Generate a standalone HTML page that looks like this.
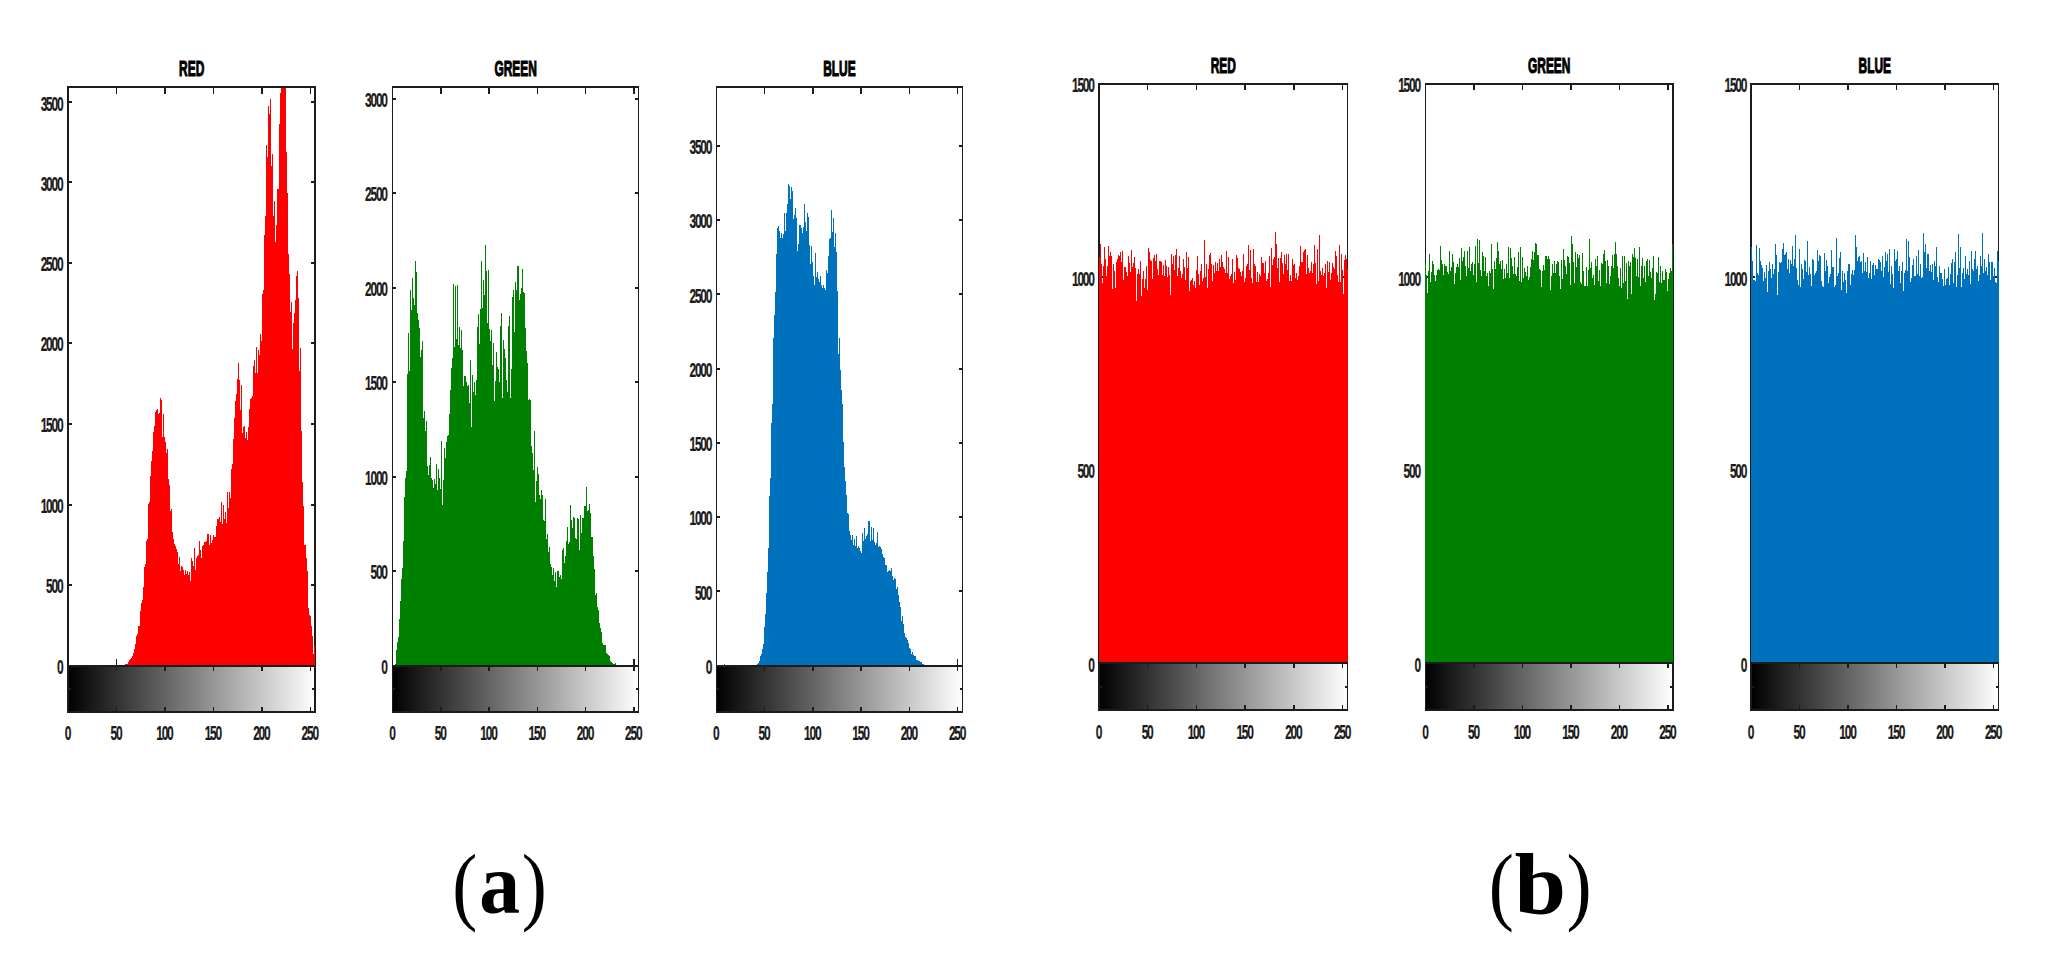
<!DOCTYPE html>
<html lang="en"><head><meta charset="utf-8"><title>RGB histograms</title>
<style>html,body{margin:0;padding:0;background:#fff;overflow:hidden;}svg{display:block;}text{font-family:"Liberation Sans",sans-serif;}.cap{font-family:"Liberation Serif",serif;}</style>
</head><body>
<svg width="2064" height="957" viewBox="0 0 2064 957">
<rect width="2064" height="957" fill="#fff"/>
<g>
<linearGradient id="g1" gradientUnits="userSpaceOnUse" x1="68.1" y1="0" x2="315.2" y2="0"><stop offset="0" stop-color="#000"/><stop offset="1" stop-color="#fff"/></linearGradient>
<rect x="67" y="665" width="249" height="48" fill="url(#g1)"/>
<path d="M67,86h249v2h-249zM67,665h249v2h-249zM67,711h249v2h-249zM67,86h2v627h-2zM314,86h2v627h-2zM115.8,88h1.5v6h-1.5zM115.8,659h1.5v6h-1.5zM115.8,667h1.5v4h-1.5zM115.8,707h1.5v4h-1.5zM164.25,88h1.5v6h-1.5zM164.25,659h1.5v6h-1.5zM164.25,667h1.5v4h-1.5zM164.25,707h1.5v4h-1.5zM212.7,88h1.5v6h-1.5zM212.7,659h1.5v6h-1.5zM212.7,667h1.5v4h-1.5zM212.7,707h1.5v4h-1.5zM261.15,88h1.5v6h-1.5zM261.15,659h1.5v6h-1.5zM261.15,667h1.5v4h-1.5zM261.15,707h1.5v4h-1.5zM309.6,88h1.5v6h-1.5zM309.6,659h1.5v6h-1.5zM309.6,667h1.5v4h-1.5zM309.6,707h1.5v4h-1.5zM69,584h3v2h-3zM311,584h3v2h-3zM69,504h3v2h-3zM311,504h3v2h-3zM69,423h3v2h-3zM311,423h3v2h-3zM69,342h3v2h-3zM311,342h3v2h-3zM69,262h3v2h-3zM311,262h3v2h-3zM69,181h3v2h-3zM311,181h3v2h-3zM69,101h3v2h-3zM311,101h3v2h-3zM69,688h2v2h-2zM312,688h2v2h-2z" fill="#1c1c1c" shape-rendering="crispEdges"/>
<path d="M125,665V664H126V664H127V664H128V662H129V660H130V659H131V658H132V656H133V653H134V649H135V644H136V636H137V634H138V626H139V626H140V611H141V603H142V600H143V587H144V567H145V564H146V541H147V539H148V504H149V502H150V476H151V461H152V451H153V432H154V426H155V412H156V410H157V409H158V414H159V413H160V398H161V400H162V437H163V414H164V437H165V442H166V453H167V449H168V479H169V485H170V511H171V509H172V532H173V539H174V544H175V546H176V549H177V552H178V564H179V557H180V571H181V566H182V567H183V570H184V575H185V570H186V574H187V571H188V575H189V572H190V581H191V558H192V561H193V566H194V548H195V570H196V558H197V556H198V555H199V541H200V550H201V558H202V546H203V545H204V542H205V542H206V541H207V534H208V534H209V545H210V535H211V543H212V540H213V535H214V537H215V537H216V526H217V519H218V519H219V517H220V522H221V502H222V524H223V505H224V519H225V512H226V523H227V492H228V508H229V492H230V498H231V469H232V464H233V439H234V418H235V401H236V394H237V379H238V363H239V380H240V410H241V385H242V433H243V427H244V426H245V438H246V432H247V440H248V427H249V409H250V399H251V398H252V396H253V366H254V360H255V373H256V347H257V373H258V350H259V355H260V334H261V341H262V294H263V290H264V235H265V216H266V145H267V157H268V106H269V114H270V99H271V166H272V154H273V216H274V201H275V242H276V225H277V189H278V189H279V124H280V93H281V88H282V88H283V88H284V88H285V88H286V152H287V193H288V254H289V274H290V312H291V302H292V349H293V323H294V313H295V300H296V276H297V271H298V298H299V371H300V348H301V431H302V482H303V506H304V545H305V545H306V558H307V571H308V608H309V615H310V616H311V626H312V636H313V654H314V646H315V665Z" fill="#ff0000" shape-rendering="crispEdges"/>
<text transform="translate(62.34,673.66) scale(0.6,1)" text-anchor="end" letter-spacing="-2.1" font-size="20" font-weight="bold" fill="#1a1a1a" stroke="#1a1a1a" stroke-width="0.2" vector-effect="non-scaling-stroke">0</text>
<text transform="translate(62.34,593.23) scale(0.6,1)" text-anchor="end" letter-spacing="-2.1" font-size="20" font-weight="bold" fill="#1a1a1a" stroke="#1a1a1a" stroke-width="0.2" vector-effect="non-scaling-stroke">500</text>
<text transform="translate(62.34,512.7) scale(0.6,1)" text-anchor="end" letter-spacing="-2.1" font-size="20" font-weight="bold" fill="#1a1a1a" stroke="#1a1a1a" stroke-width="0.2" vector-effect="non-scaling-stroke">1000</text>
<text transform="translate(62.34,432.17) scale(0.6,1)" text-anchor="end" letter-spacing="-2.1" font-size="20" font-weight="bold" fill="#1a1a1a" stroke="#1a1a1a" stroke-width="0.2" vector-effect="non-scaling-stroke">1500</text>
<text transform="translate(62.34,351.15) scale(0.6,1)" text-anchor="end" letter-spacing="-2.1" font-size="20" font-weight="bold" fill="#1a1a1a" stroke="#1a1a1a" stroke-width="0.2" vector-effect="non-scaling-stroke">2000</text>
<text transform="translate(62.34,271.12) scale(0.6,1)" text-anchor="end" letter-spacing="-2.1" font-size="20" font-weight="bold" fill="#1a1a1a" stroke="#1a1a1a" stroke-width="0.2" vector-effect="non-scaling-stroke">2500</text>
<text transform="translate(62.34,190.59) scale(0.6,1)" text-anchor="end" letter-spacing="-2.1" font-size="20" font-weight="bold" fill="#1a1a1a" stroke="#1a1a1a" stroke-width="0.2" vector-effect="non-scaling-stroke">3000</text>
<text transform="translate(62.34,111.06) scale(0.6,1)" text-anchor="end" letter-spacing="-2.1" font-size="20" font-weight="bold" fill="#1a1a1a" stroke="#1a1a1a" stroke-width="0.2" vector-effect="non-scaling-stroke">3500</text>
<text transform="translate(67.47,740.26) scale(0.6,1)" text-anchor="middle" letter-spacing="-2.1" font-size="20" font-weight="bold" fill="#1a1a1a" stroke="#1a1a1a" stroke-width="0.2" vector-effect="non-scaling-stroke">0</text>
<text transform="translate(115.92,740.26) scale(0.6,1)" text-anchor="middle" letter-spacing="-2.1" font-size="20" font-weight="bold" fill="#1a1a1a" stroke="#1a1a1a" stroke-width="0.2" vector-effect="non-scaling-stroke">50</text>
<text transform="translate(164.37,740.26) scale(0.6,1)" text-anchor="middle" letter-spacing="-2.1" font-size="20" font-weight="bold" fill="#1a1a1a" stroke="#1a1a1a" stroke-width="0.2" vector-effect="non-scaling-stroke">100</text>
<text transform="translate(212.82,740.26) scale(0.6,1)" text-anchor="middle" letter-spacing="-2.1" font-size="20" font-weight="bold" fill="#1a1a1a" stroke="#1a1a1a" stroke-width="0.2" vector-effect="non-scaling-stroke">150</text>
<text transform="translate(261.27,740.26) scale(0.6,1)" text-anchor="middle" letter-spacing="-2.1" font-size="20" font-weight="bold" fill="#1a1a1a" stroke="#1a1a1a" stroke-width="0.2" vector-effect="non-scaling-stroke">200</text>
<text transform="translate(309.72,740.26) scale(0.6,1)" text-anchor="middle" letter-spacing="-2.1" font-size="20" font-weight="bold" fill="#1a1a1a" stroke="#1a1a1a" stroke-width="0.2" vector-effect="non-scaling-stroke">250</text>
<text transform="translate(191.65,76.3) scale(0.555,1)" text-anchor="middle" font-size="21.5" font-weight="bold" fill="#000" stroke="#000" stroke-width="0.9" vector-effect="non-scaling-stroke">RED</text>
</g>
<g>
<linearGradient id="g2" gradientUnits="userSpaceOnUse" x1="392.6" y1="0" x2="638.7" y2="0"><stop offset="0" stop-color="#000"/><stop offset="1" stop-color="#fff"/></linearGradient>
<rect x="392" y="665" width="247" height="48" fill="url(#g2)"/>
<path d="M392,86h247v2h-247zM392,665h247v2h-247zM392,711h247v2h-247zM392,86h1v627h-1zM638,86h1v627h-1zM440.1,88h1.5v6h-1.5zM440.1,659h1.5v6h-1.5zM440.1,667h1.5v4h-1.5zM440.1,707h1.5v4h-1.5zM488.36,88h1.5v6h-1.5zM488.36,659h1.5v6h-1.5zM488.36,667h1.5v4h-1.5zM488.36,707h1.5v4h-1.5zM536.61,88h1.5v6h-1.5zM536.61,659h1.5v6h-1.5zM536.61,667h1.5v4h-1.5zM536.61,707h1.5v4h-1.5zM584.87,88h1.5v6h-1.5zM584.87,659h1.5v6h-1.5zM584.87,667h1.5v4h-1.5zM584.87,707h1.5v4h-1.5zM633.12,88h1.5v6h-1.5zM633.12,659h1.5v6h-1.5zM633.12,667h1.5v4h-1.5zM633.12,707h1.5v4h-1.5zM393,570h3v2h-3zM635,570h3v2h-3zM393,476h3v2h-3zM635,476h3v2h-3zM393,381h3v2h-3zM635,381h3v2h-3zM393,287h3v2h-3zM635,287h3v2h-3zM393,192h3v2h-3zM635,192h3v2h-3zM393,98h3v2h-3zM635,98h3v2h-3zM393,688h2v2h-2zM636,688h2v2h-2z" fill="#1c1c1c" shape-rendering="crispEdges"/>
<path d="M395,665V664H396V650H397V642H398V637H399V619H400V601H401V579H402V568H403V541H404V497H405V478H406V471H407V374H408V333H409V371H410V290H411V310H412V278H413V298H414V305H415V261H416V272H417V313H418V320H419V328H420V357H421V350H422V341H423V418H424V411H425V431H426V421H427V466H428V475H429V465H430V457H431V478H432V480H433V488H434V479H435V484H436V464H437V490H438V469H439V478H440V489H441V441H442V505H443V480H444V448H445V458H446V442H447V436H448V435H449V414H450V390H451V368H452V358H453V284H454V347H455V286H456V339H457V285H458V345H459V327H460V348H461V330H462V350H463V386H464V376H465V376H466V382H467V386H468V385H469V403H470V360H471V427H472V375H473V392H474V382H475V395H476V380H477V327H478V314H479V344H480V309H481V261H482V308H483V280H484V295H485V245H486V271H487V323H488V270H489V329H490V341H491V330H492V365H493V343H494V401H495V381H496V352H497V367H498V369H499V382H500V326H501V313H502V398H503V340H504V349H505V358H506V380H507V392H508V326H509V316H510V398H511V369H512V297H513V290H514V332H515V282H516V290H517V266H518V266H519V300H520V294H521V288H522V269H523V292H524V293H525V328H526V351H527V363H528V400H529V399H530V400H531V446H532V453H533V470H534V431H535V502H536V481H537V467H538V474H539V495H540V499H541V490H542V495H543V520H544V521H545V499H546V539H547V534H548V552H549V547H550V564H551V567H552V575H553V568H554V581H555V572H556V587H557V571H558V571H559V577H560V575H561V579H562V550H563V548H564V563H565V556H566V541H567V527H568V544H569V542H570V505H571V520H572V528H573V517H574V518H575V538H576V539H577V518H578V519H579V550H580V515H581V533H582V518H583V518H584V506H585V506H586V487H587V511H588V510H589V504H590V513H591V537H592V537H593V556H594V569H595V595H596V593H597V607H598V610H599V623H600V628H601V632H602V643H603V645H604V645H605V645H606V653H607V654H608V655H609V656H610V661H611V662H612V663H613V664H614V664H615V663H616V665Z" fill="#008000" shape-rendering="crispEdges"/>
<text transform="translate(386.74,673.76) scale(0.6,1)" text-anchor="end" letter-spacing="-2.1" font-size="20" font-weight="bold" fill="#1a1a1a" stroke="#1a1a1a" stroke-width="0.2" vector-effect="non-scaling-stroke">0</text>
<text transform="translate(386.74,579.28) scale(0.6,1)" text-anchor="end" letter-spacing="-2.1" font-size="20" font-weight="bold" fill="#1a1a1a" stroke="#1a1a1a" stroke-width="0.2" vector-effect="non-scaling-stroke">500</text>
<text transform="translate(386.74,484.81) scale(0.6,1)" text-anchor="end" letter-spacing="-2.1" font-size="20" font-weight="bold" fill="#1a1a1a" stroke="#1a1a1a" stroke-width="0.2" vector-effect="non-scaling-stroke">1000</text>
<text transform="translate(386.74,390.34) scale(0.6,1)" text-anchor="end" letter-spacing="-2.1" font-size="20" font-weight="bold" fill="#1a1a1a" stroke="#1a1a1a" stroke-width="0.2" vector-effect="non-scaling-stroke">1500</text>
<text transform="translate(386.74,295.86) scale(0.6,1)" text-anchor="end" letter-spacing="-2.1" font-size="20" font-weight="bold" fill="#1a1a1a" stroke="#1a1a1a" stroke-width="0.2" vector-effect="non-scaling-stroke">2000</text>
<text transform="translate(386.74,201.39) scale(0.6,1)" text-anchor="end" letter-spacing="-2.1" font-size="20" font-weight="bold" fill="#1a1a1a" stroke="#1a1a1a" stroke-width="0.2" vector-effect="non-scaling-stroke">2500</text>
<text transform="translate(386.74,107.41) scale(0.6,1)" text-anchor="end" letter-spacing="-2.1" font-size="20" font-weight="bold" fill="#1a1a1a" stroke="#1a1a1a" stroke-width="0.2" vector-effect="non-scaling-stroke">3000</text>
<text transform="translate(391.97,740.26) scale(0.6,1)" text-anchor="middle" letter-spacing="-2.1" font-size="20" font-weight="bold" fill="#1a1a1a" stroke="#1a1a1a" stroke-width="0.2" vector-effect="non-scaling-stroke">0</text>
<text transform="translate(440.22,740.26) scale(0.6,1)" text-anchor="middle" letter-spacing="-2.1" font-size="20" font-weight="bold" fill="#1a1a1a" stroke="#1a1a1a" stroke-width="0.2" vector-effect="non-scaling-stroke">50</text>
<text transform="translate(488.48,740.26) scale(0.6,1)" text-anchor="middle" letter-spacing="-2.1" font-size="20" font-weight="bold" fill="#1a1a1a" stroke="#1a1a1a" stroke-width="0.2" vector-effect="non-scaling-stroke">100</text>
<text transform="translate(536.73,740.26) scale(0.6,1)" text-anchor="middle" letter-spacing="-2.1" font-size="20" font-weight="bold" fill="#1a1a1a" stroke="#1a1a1a" stroke-width="0.2" vector-effect="non-scaling-stroke">150</text>
<text transform="translate(584.99,740.26) scale(0.6,1)" text-anchor="middle" letter-spacing="-2.1" font-size="20" font-weight="bold" fill="#1a1a1a" stroke="#1a1a1a" stroke-width="0.2" vector-effect="non-scaling-stroke">200</text>
<text transform="translate(633.24,740.26) scale(0.6,1)" text-anchor="middle" letter-spacing="-2.1" font-size="20" font-weight="bold" fill="#1a1a1a" stroke="#1a1a1a" stroke-width="0.2" vector-effect="non-scaling-stroke">250</text>
<text transform="translate(515.65,76.3) scale(0.555,1)" text-anchor="middle" font-size="21.5" font-weight="bold" fill="#000" stroke="#000" stroke-width="0.9" vector-effect="non-scaling-stroke">GREEN</text>
</g>
<g>
<linearGradient id="g3" gradientUnits="userSpaceOnUse" x1="716.3" y1="0" x2="962.5" y2="0"><stop offset="0" stop-color="#000"/><stop offset="1" stop-color="#fff"/></linearGradient>
<rect x="716" y="665" width="247" height="48" fill="url(#g3)"/>
<path d="M716,86h247v2h-247zM716,665h247v2h-247zM716,711h247v2h-247zM716,86h1v627h-1zM962,86h1v627h-1zM763.82,88h1.5v6h-1.5zM763.82,659h1.5v6h-1.5zM763.82,667h1.5v4h-1.5zM763.82,707h1.5v4h-1.5zM812.1,88h1.5v6h-1.5zM812.1,659h1.5v6h-1.5zM812.1,667h1.5v4h-1.5zM812.1,707h1.5v4h-1.5zM860.37,88h1.5v6h-1.5zM860.37,659h1.5v6h-1.5zM860.37,667h1.5v4h-1.5zM860.37,707h1.5v4h-1.5zM908.65,88h1.5v6h-1.5zM908.65,659h1.5v6h-1.5zM908.65,667h1.5v4h-1.5zM908.65,707h1.5v4h-1.5zM956.92,88h1.5v6h-1.5zM956.92,659h1.5v6h-1.5zM956.92,667h1.5v4h-1.5zM956.92,707h1.5v4h-1.5zM717,590h3v2h-3zM959,590h3v2h-3zM717,516h3v2h-3zM959,516h3v2h-3zM717,442h3v2h-3zM959,442h3v2h-3zM717,368h3v2h-3zM959,368h3v2h-3zM717,293h3v2h-3zM959,293h3v2h-3zM717,219h3v2h-3zM959,219h3v2h-3zM717,145h3v2h-3zM959,145h3v2h-3zM717,688h2v2h-2zM960,688h2v2h-2z" fill="#1c1c1c" shape-rendering="crispEdges"/>
<path d="M724,665V664H725V665ZM757,665V664H758V663H759V661H760V656H761V654H762V649H763V644H764V627H765V614H766V593H767V572H768V548H769V496H770V478H771V423H772V404H773V338H774V315H775V292H776V254H777V228H778V226H779V231H780V238H781V233H782V238H783V234H784V213H785V231H786V213H787V204H788V184H789V186H790V199H791V187H792V191H793V219H794V215H795V208H796V218H797V251H798V244H799V225H800V225H801V228H802V233H803V227H804V204H805V222H806V231H807V213H808V217H809V245H810V264H811V246H812V262H813V276H814V285H815V253H816V277H817V272H818V279H819V282H820V276H821V285H822V288H823V285H824V288H825V290H826V270H827V273H828V256H829V239H830V238H831V210H832V232H833V218H834V247H835V233H836V252H837V291H838V354H839V338H840V370H841V390H842V404H843V442H844V467H845V481H846V495H847V513H848V514H849V531H850V535H851V540H852V535H853V545H854V539H855V546H856V536H857V548H858V546H859V548H860V551H861V553H862V533H863V541H864V528H865V539H866V536H867V534H868V521H869V521H870V541H871V527H872V540H873V528H874V542H875V545H876V543H877V532H878V547H879V546H880V547H881V549H882V554H883V557H884V558H885V565H886V565H887V572H888V571H889V570H890V571H891V568H892V576H893V580H894V578H895V579H896V589H897V587H898V595H899V602H900V607H901V621H902V616H903V624H904V633H905V637H906V638H907V640H908V643H909V648H910V649H911V654H912V652H913V655H914V656H915V656H916V660H917V660H918V661H919V661H920V662H921V662H922V664H923V664H924V665Z" fill="#0072bd" shape-rendering="crispEdges"/>
<text transform="translate(711.14,673.76) scale(0.6,1)" text-anchor="end" letter-spacing="-2.1" font-size="20" font-weight="bold" fill="#1a1a1a" stroke="#1a1a1a" stroke-width="0.2" vector-effect="non-scaling-stroke">0</text>
<text transform="translate(711.14,599.53) scale(0.6,1)" text-anchor="end" letter-spacing="-2.1" font-size="20" font-weight="bold" fill="#1a1a1a" stroke="#1a1a1a" stroke-width="0.2" vector-effect="non-scaling-stroke">500</text>
<text transform="translate(711.14,525.3) scale(0.6,1)" text-anchor="end" letter-spacing="-2.1" font-size="20" font-weight="bold" fill="#1a1a1a" stroke="#1a1a1a" stroke-width="0.2" vector-effect="non-scaling-stroke">1000</text>
<text transform="translate(711.14,451.07) scale(0.6,1)" text-anchor="end" letter-spacing="-2.1" font-size="20" font-weight="bold" fill="#1a1a1a" stroke="#1a1a1a" stroke-width="0.2" vector-effect="non-scaling-stroke">1500</text>
<text transform="translate(711.14,376.85) scale(0.6,1)" text-anchor="end" letter-spacing="-2.1" font-size="20" font-weight="bold" fill="#1a1a1a" stroke="#1a1a1a" stroke-width="0.2" vector-effect="non-scaling-stroke">2000</text>
<text transform="translate(711.14,302.62) scale(0.6,1)" text-anchor="end" letter-spacing="-2.1" font-size="20" font-weight="bold" fill="#1a1a1a" stroke="#1a1a1a" stroke-width="0.2" vector-effect="non-scaling-stroke">2500</text>
<text transform="translate(711.14,228.39) scale(0.6,1)" text-anchor="end" letter-spacing="-2.1" font-size="20" font-weight="bold" fill="#1a1a1a" stroke="#1a1a1a" stroke-width="0.2" vector-effect="non-scaling-stroke">3000</text>
<text transform="translate(711.14,153.76) scale(0.6,1)" text-anchor="end" letter-spacing="-2.1" font-size="20" font-weight="bold" fill="#1a1a1a" stroke="#1a1a1a" stroke-width="0.2" vector-effect="non-scaling-stroke">3500</text>
<text transform="translate(715.67,740.26) scale(0.6,1)" text-anchor="middle" letter-spacing="-2.1" font-size="20" font-weight="bold" fill="#1a1a1a" stroke="#1a1a1a" stroke-width="0.2" vector-effect="non-scaling-stroke">0</text>
<text transform="translate(763.94,740.26) scale(0.6,1)" text-anchor="middle" letter-spacing="-2.1" font-size="20" font-weight="bold" fill="#1a1a1a" stroke="#1a1a1a" stroke-width="0.2" vector-effect="non-scaling-stroke">50</text>
<text transform="translate(812.22,740.26) scale(0.6,1)" text-anchor="middle" letter-spacing="-2.1" font-size="20" font-weight="bold" fill="#1a1a1a" stroke="#1a1a1a" stroke-width="0.2" vector-effect="non-scaling-stroke">100</text>
<text transform="translate(860.49,740.26) scale(0.6,1)" text-anchor="middle" letter-spacing="-2.1" font-size="20" font-weight="bold" fill="#1a1a1a" stroke="#1a1a1a" stroke-width="0.2" vector-effect="non-scaling-stroke">150</text>
<text transform="translate(908.77,740.26) scale(0.6,1)" text-anchor="middle" letter-spacing="-2.1" font-size="20" font-weight="bold" fill="#1a1a1a" stroke="#1a1a1a" stroke-width="0.2" vector-effect="non-scaling-stroke">200</text>
<text transform="translate(957.04,740.26) scale(0.6,1)" text-anchor="middle" letter-spacing="-2.1" font-size="20" font-weight="bold" fill="#1a1a1a" stroke="#1a1a1a" stroke-width="0.2" vector-effect="non-scaling-stroke">250</text>
<text transform="translate(839.4,76.3) scale(0.555,1)" text-anchor="middle" font-size="21.5" font-weight="bold" fill="#000" stroke="#000" stroke-width="0.9" vector-effect="non-scaling-stroke">BLUE</text>
</g>
<g>
<linearGradient id="g4" gradientUnits="userSpaceOnUse" x1="1099" y1="0" x2="1347.5" y2="0"><stop offset="0" stop-color="#000"/><stop offset="1" stop-color="#fff"/></linearGradient>
<rect x="1098" y="662" width="250" height="49" fill="url(#g4)"/>
<path d="M1098,83h250v2h-250zM1098,662h250v2h-250zM1098,709h250v2h-250zM1098,83h2v628h-2zM1347,83h1v628h-1zM1146.98,85h1.5v5h-1.5zM1146.98,657h1.5v5h-1.5zM1146.98,664h1.5v4h-1.5zM1146.98,705h1.5v4h-1.5zM1195.7,85h1.5v5h-1.5zM1195.7,657h1.5v5h-1.5zM1195.7,664h1.5v4h-1.5zM1195.7,705h1.5v4h-1.5zM1244.43,85h1.5v5h-1.5zM1244.43,657h1.5v5h-1.5zM1244.43,664h1.5v4h-1.5zM1244.43,705h1.5v4h-1.5zM1293.15,85h1.5v5h-1.5zM1293.15,657h1.5v5h-1.5zM1293.15,664h1.5v4h-1.5zM1293.15,705h1.5v4h-1.5zM1341.88,85h1.5v5h-1.5zM1341.88,657h1.5v5h-1.5zM1341.88,664h1.5v4h-1.5zM1341.88,705h1.5v4h-1.5zM1100,469h3v2h-3zM1343,469h4v2h-4zM1100,276h3v2h-3zM1343,276h4v2h-4zM1100,686h2v2h-2zM1345,686h2v2h-2z" fill="#1c1c1c" shape-rendering="crispEdges"/>
<path d="M1099,662V257H1100V244H1101V264H1102V283H1103V266H1104V247H1105V259H1106V276H1107V266H1108V246H1109V256H1110V252H1111V256H1112V289H1113V264H1114V271H1115V288H1116V262H1117V259H1118V255H1119V256H1120V252H1121V262H1122V251H1123V280H1124V267H1125V267H1126V272H1127V276H1128V256H1129V263H1130V272H1131V250H1132V267H1133V263H1134V257H1135V268H1136V301H1137V274H1138V269H1139V274H1140V261H1141V296H1142V279H1143V271H1144V288H1145V279H1146V266H1147V290H1148V248H1149V252H1150V260H1151V261H1152V279H1153V258H1154V255H1155V261H1156V254H1157V269H1158V275H1159V261H1160V261H1161V262H1162V275H1163V265H1164V276H1165V260H1166V266H1167V277H1168V267H1169V275H1170V295H1171V254H1172V264H1173V256H1174V270H1175V255H1176V249H1177V276H1178V268H1179V256H1180V271H1181V278H1182V274H1183V259H1184V267H1185V280H1186V252H1187V268H1188V257H1189V291H1190V281H1191V280H1192V278H1193V285H1194V281H1195V288H1196V270H1197V256H1198V274H1199V285H1200V271H1201V264H1202V281H1203V278H1204V240H1205V277H1206V264H1207V288H1208V269H1209V255H1210V253H1211V264H1212V281H1213V265H1214V273H1215V262H1216V271H1217V263H1218V271H1219V259H1220V267H1221V255H1222V262H1223V267H1224V269H1225V273H1226V251H1227V273H1228V257H1229V279H1230V276H1231V274H1232V259H1233V283H1234V272H1235V280H1236V255H1237V258H1238V268H1239V269H1240V272H1241V276H1242V271H1243V254H1244V282H1245V278H1246V266H1247V264H1248V245H1249V270H1250V250H1251V278H1252V283H1253V249H1254V264H1255V266H1256V282H1257V272H1258V282H1259V274H1260V276H1261V257H1262V263H1263V263H1264V273H1265V261H1266V281H1267V279H1268V273H1269V256H1270V287H1271V248H1272V265H1273V259H1274V257H1275V232H1276V244H1277V268H1278V258H1279V282H1280V258H1281V252H1282V263H1283V274H1284V255H1285V264H1286V254H1287V270H1288V254H1289V281H1290V275H1291V281H1292V259H1293V265H1294V264H1295V278H1296V273H1297V280H1298V276H1299V266H1300V246H1301V262H1302V262H1303V252H1304V250H1305V249H1306V274H1307V255H1308V268H1309V273H1310V271H1311V262H1312V273H1313V264H1314V245H1315V263H1316V284H1317V249H1318V281H1319V235H1320V271H1321V275H1322V268H1323V276H1324V273H1325V264H1326V288H1327V261H1328V272H1329V262H1330V280H1331V273H1332V263H1333V267H1334V269H1335V251H1336V256H1337V275H1338V282H1339V245H1340V282H1341V254H1342V270H1343V294H1344V260H1345V255H1346V259H1347V269H1348V662Z" fill="#ff0000" shape-rendering="crispEdges"/>
<text transform="translate(1093.64,671.76) scale(0.6,1)" text-anchor="end" letter-spacing="-2.1" font-size="20" font-weight="bold" fill="#1a1a1a" stroke="#1a1a1a" stroke-width="0.2" vector-effect="non-scaling-stroke">0</text>
<text transform="translate(1093.64,478.29) scale(0.6,1)" text-anchor="end" letter-spacing="-2.1" font-size="20" font-weight="bold" fill="#1a1a1a" stroke="#1a1a1a" stroke-width="0.2" vector-effect="non-scaling-stroke">500</text>
<text transform="translate(1093.64,285.63) scale(0.6,1)" text-anchor="end" letter-spacing="-2.1" font-size="20" font-weight="bold" fill="#1a1a1a" stroke="#1a1a1a" stroke-width="0.2" vector-effect="non-scaling-stroke">1000</text>
<text transform="translate(1093.64,91.66) scale(0.6,1)" text-anchor="end" letter-spacing="-2.1" font-size="20" font-weight="bold" fill="#1a1a1a" stroke="#1a1a1a" stroke-width="0.2" vector-effect="non-scaling-stroke">1500</text>
<text transform="translate(1098.37,738.96) scale(0.6,1)" text-anchor="middle" letter-spacing="-2.1" font-size="20" font-weight="bold" fill="#1a1a1a" stroke="#1a1a1a" stroke-width="0.2" vector-effect="non-scaling-stroke">0</text>
<text transform="translate(1147.1,738.96) scale(0.6,1)" text-anchor="middle" letter-spacing="-2.1" font-size="20" font-weight="bold" fill="#1a1a1a" stroke="#1a1a1a" stroke-width="0.2" vector-effect="non-scaling-stroke">50</text>
<text transform="translate(1195.82,738.96) scale(0.6,1)" text-anchor="middle" letter-spacing="-2.1" font-size="20" font-weight="bold" fill="#1a1a1a" stroke="#1a1a1a" stroke-width="0.2" vector-effect="non-scaling-stroke">100</text>
<text transform="translate(1244.55,738.96) scale(0.6,1)" text-anchor="middle" letter-spacing="-2.1" font-size="20" font-weight="bold" fill="#1a1a1a" stroke="#1a1a1a" stroke-width="0.2" vector-effect="non-scaling-stroke">150</text>
<text transform="translate(1293.27,738.96) scale(0.6,1)" text-anchor="middle" letter-spacing="-2.1" font-size="20" font-weight="bold" fill="#1a1a1a" stroke="#1a1a1a" stroke-width="0.2" vector-effect="non-scaling-stroke">200</text>
<text transform="translate(1342,738.96) scale(0.6,1)" text-anchor="middle" letter-spacing="-2.1" font-size="20" font-weight="bold" fill="#1a1a1a" stroke="#1a1a1a" stroke-width="0.2" vector-effect="non-scaling-stroke">250</text>
<text transform="translate(1223.25,72.5) scale(0.555,1)" text-anchor="middle" font-size="21.5" font-weight="bold" fill="#000" stroke="#000" stroke-width="0.9" vector-effect="non-scaling-stroke">RED</text>
</g>
<g>
<linearGradient id="g5" gradientUnits="userSpaceOnUse" x1="1425.5" y1="0" x2="1672.9" y2="0"><stop offset="0" stop-color="#000"/><stop offset="1" stop-color="#fff"/></linearGradient>
<rect x="1425" y="662" width="249" height="49" fill="url(#g5)"/>
<path d="M1425,83h249v2h-249zM1425,662h249v2h-249zM1425,709h249v2h-249zM1425,83h1v628h-1zM1672,83h2v628h-2zM1473.26,85h1.5v5h-1.5zM1473.26,657h1.5v5h-1.5zM1473.26,664h1.5v4h-1.5zM1473.26,705h1.5v4h-1.5zM1521.77,85h1.5v5h-1.5zM1521.77,657h1.5v5h-1.5zM1521.77,664h1.5v4h-1.5zM1521.77,705h1.5v4h-1.5zM1570.28,85h1.5v5h-1.5zM1570.28,657h1.5v5h-1.5zM1570.28,664h1.5v4h-1.5zM1570.28,705h1.5v4h-1.5zM1618.79,85h1.5v5h-1.5zM1618.79,657h1.5v5h-1.5zM1618.79,664h1.5v4h-1.5zM1618.79,705h1.5v4h-1.5zM1667.3,85h1.5v5h-1.5zM1667.3,657h1.5v5h-1.5zM1667.3,664h1.5v4h-1.5zM1667.3,705h1.5v4h-1.5zM1426,469h3v2h-3zM1669,469h3v2h-3zM1426,276h3v2h-3zM1669,276h3v2h-3zM1426,686h2v2h-2zM1670,686h2v2h-2z" fill="#1c1c1c" shape-rendering="crispEdges"/>
<path d="M1425,662V263H1426V275H1427V293H1428V271H1429V254H1430V282H1431V272H1432V261H1433V264H1434V275H1435V281H1436V275H1437V270H1438V269H1439V270H1440V246H1441V260H1442V264H1443V275H1444V264H1445V266H1446V266H1447V272H1448V274H1449V251H1450V271H1451V267H1452V254H1453V262H1454V284H1455V273H1456V267H1457V264H1458V267H1459V258H1460V280H1461V248H1462V261H1463V257H1464V251H1465V266H1466V276H1467V251H1468V268H1469V247H1470V271H1471V264H1472V262H1473V275H1474V264H1475V246H1476V282H1477V239H1478V263H1479V240H1480V270H1481V276H1482V252H1483V256H1484V271H1485V257H1486V276H1487V273H1488V286H1489V271H1490V273H1491V244H1492V269H1493V289H1494V261H1495V269H1496V258H1497V242H1498V251H1499V264H1500V261H1501V269H1502V260H1503V279H1504V269H1505V278H1506V264H1507V273H1508V247H1509V278H1510V248H1511V258H1512V266H1513V274H1514V257H1515V274H1516V276H1517V267H1518V252H1519V281H1520V247H1521V282H1522V257H1523V278H1524V268H1525V272H1526V276H1527V266H1528V280H1529V277H1530V267H1531V259H1532V251H1533V260H1534V252H1535V243H1536V244H1537V255H1538V255H1539V269H1540V270H1541V287H1542V271H1543V265H1544V270H1545V256H1546V256H1547V259H1548V256H1549V259H1550V290H1551V276H1552V264H1553V273H1554V261H1555V273H1556V264H1557V261H1558V262H1559V276H1560V289H1561V260H1562V279H1563V249H1564V260H1565V266H1566V274H1567V256H1568V257H1569V263H1570V285H1571V236H1572V244H1573V262H1574V283H1575V252H1576V267H1577V254H1578V258H1579V255H1580V282H1581V284H1582V253H1583V271H1584V286H1585V286H1586V267H1587V286H1588V270H1589V239H1590V268H1591V262H1592V278H1593V275H1594V285H1595V259H1596V266H1597V256H1598V281H1599V270H1600V286H1601V263H1602V264H1603V254H1604V250H1605V261H1606V283H1607V260H1608V266H1609V284H1610V276H1611V266H1612V255H1613V268H1614V254H1615V242H1616V254H1617V266H1618V278H1619V286H1620V268H1621V288H1622V256H1623V283H1624V256H1625V281H1626V263H1627V299H1628V261H1629V266H1630V262H1631V294H1632V254H1633V257H1634V248H1635V258H1636V276H1637V259H1638V277H1639V247H1640V286H1641V266H1642V258H1643V278H1644V266H1645V282H1646V261H1647V259H1648V276H1649V260H1650V272H1651V278H1652V268H1653V256H1654V300H1655V294H1656V272H1657V273H1658V257H1659V282H1660V266H1661V283H1662V271H1663V280H1664V280H1665V269H1666V272H1667V291H1668V279H1669V273H1670V268H1671V271H1672V244H1673V662Z" fill="#008000" shape-rendering="crispEdges"/>
<text transform="translate(1419.84,671.76) scale(0.6,1)" text-anchor="end" letter-spacing="-2.1" font-size="20" font-weight="bold" fill="#1a1a1a" stroke="#1a1a1a" stroke-width="0.2" vector-effect="non-scaling-stroke">0</text>
<text transform="translate(1419.84,478.29) scale(0.6,1)" text-anchor="end" letter-spacing="-2.1" font-size="20" font-weight="bold" fill="#1a1a1a" stroke="#1a1a1a" stroke-width="0.2" vector-effect="non-scaling-stroke">500</text>
<text transform="translate(1419.84,285.63) scale(0.6,1)" text-anchor="end" letter-spacing="-2.1" font-size="20" font-weight="bold" fill="#1a1a1a" stroke="#1a1a1a" stroke-width="0.2" vector-effect="non-scaling-stroke">1000</text>
<text transform="translate(1419.84,91.66) scale(0.6,1)" text-anchor="end" letter-spacing="-2.1" font-size="20" font-weight="bold" fill="#1a1a1a" stroke="#1a1a1a" stroke-width="0.2" vector-effect="non-scaling-stroke">1500</text>
<text transform="translate(1424.87,738.96) scale(0.6,1)" text-anchor="middle" letter-spacing="-2.1" font-size="20" font-weight="bold" fill="#1a1a1a" stroke="#1a1a1a" stroke-width="0.2" vector-effect="non-scaling-stroke">0</text>
<text transform="translate(1473.38,738.96) scale(0.6,1)" text-anchor="middle" letter-spacing="-2.1" font-size="20" font-weight="bold" fill="#1a1a1a" stroke="#1a1a1a" stroke-width="0.2" vector-effect="non-scaling-stroke">50</text>
<text transform="translate(1521.89,738.96) scale(0.6,1)" text-anchor="middle" letter-spacing="-2.1" font-size="20" font-weight="bold" fill="#1a1a1a" stroke="#1a1a1a" stroke-width="0.2" vector-effect="non-scaling-stroke">100</text>
<text transform="translate(1570.4,738.96) scale(0.6,1)" text-anchor="middle" letter-spacing="-2.1" font-size="20" font-weight="bold" fill="#1a1a1a" stroke="#1a1a1a" stroke-width="0.2" vector-effect="non-scaling-stroke">150</text>
<text transform="translate(1618.91,738.96) scale(0.6,1)" text-anchor="middle" letter-spacing="-2.1" font-size="20" font-weight="bold" fill="#1a1a1a" stroke="#1a1a1a" stroke-width="0.2" vector-effect="non-scaling-stroke">200</text>
<text transform="translate(1667.42,738.96) scale(0.6,1)" text-anchor="middle" letter-spacing="-2.1" font-size="20" font-weight="bold" fill="#1a1a1a" stroke="#1a1a1a" stroke-width="0.2" vector-effect="non-scaling-stroke">250</text>
<text transform="translate(1549.2,72.5) scale(0.555,1)" text-anchor="middle" font-size="21.5" font-weight="bold" fill="#000" stroke="#000" stroke-width="0.9" vector-effect="non-scaling-stroke">GREEN</text>
</g>
<g>
<linearGradient id="g6" gradientUnits="userSpaceOnUse" x1="1751" y1="0" x2="1998.5" y2="0"><stop offset="0" stop-color="#000"/><stop offset="1" stop-color="#fff"/></linearGradient>
<rect x="1750" y="662" width="249" height="49" fill="url(#g6)"/>
<path d="M1750,83h249v2h-249zM1750,662h249v2h-249zM1750,709h249v2h-249zM1750,83h2v628h-2zM1998,83h1v628h-1zM1798.78,85h1.5v5h-1.5zM1798.78,657h1.5v5h-1.5zM1798.78,664h1.5v4h-1.5zM1798.78,705h1.5v4h-1.5zM1847.31,85h1.5v5h-1.5zM1847.31,657h1.5v5h-1.5zM1847.31,664h1.5v4h-1.5zM1847.31,705h1.5v4h-1.5zM1895.84,85h1.5v5h-1.5zM1895.84,657h1.5v5h-1.5zM1895.84,664h1.5v4h-1.5zM1895.84,705h1.5v4h-1.5zM1944.37,85h1.5v5h-1.5zM1944.37,657h1.5v5h-1.5zM1944.37,664h1.5v4h-1.5zM1944.37,705h1.5v4h-1.5zM1992.9,85h1.5v5h-1.5zM1992.9,657h1.5v5h-1.5zM1992.9,664h1.5v4h-1.5zM1992.9,705h1.5v4h-1.5zM1752,469h3v2h-3zM1995,469h3v2h-3zM1752,276h3v2h-3zM1995,276h3v2h-3zM1752,686h2v2h-2zM1996,686h2v2h-2z" fill="#1c1c1c" shape-rendering="crispEdges"/>
<path d="M1751,662V247H1752V261H1753V280H1754V280H1755V281H1756V245H1757V273H1758V275H1759V248H1760V261H1761V265H1762V268H1763V281H1764V272H1765V278H1766V265H1767V292H1768V271H1769V262H1770V269H1771V278H1772V264H1773V274H1774V269H1775V244H1776V255H1777V295H1778V272H1779V262H1780V263H1781V262H1782V249H1783V243H1784V255H1785V254H1786V252H1787V269H1788V259H1789V273H1790V260H1791V264H1792V246H1793V266H1794V259H1795V235H1796V268H1797V280H1798V285H1799V249H1800V287H1801V264H1802V269H1803V279H1804V260H1805V261H1806V272H1807V241H1808V275H1809V267H1810V274H1811V286H1812V259H1813V260H1814V275H1815V273H1816V271H1817V250H1818V261H1819V255H1820V256H1821V281H1822V286H1823V287H1824V253H1825V271H1826V260H1827V266H1828V283H1829V277H1830V274H1831V250H1832V267H1833V267H1834V287H1835V285H1836V238H1837V276H1838V273H1839V258H1840V252H1841V290H1842V271H1843V282H1844V273H1845V280H1846V293H1847V271H1848V264H1849V264H1850V285H1851V274H1852V270H1853V275H1854V270H1855V235H1856V247H1857V261H1858V257H1859V256H1860V262H1861V261H1862V273H1863V253H1864V271H1865V262H1866V272H1867V257H1868V278H1869V273H1870V261H1871V279H1872V265H1873V263H1874V275H1875V265H1876V269H1877V269H1878V259H1879V260H1880V262H1881V271H1882V256H1883V277H1884V267H1885V252H1886V261H1887V254H1888V272H1889V249H1890V284H1891V266H1892V274H1893V288H1894V249H1895V261H1896V259H1897V251H1898V271H1899V266H1900V283H1901V271H1902V262H1903V291H1904V273H1905V270H1906V239H1907V271H1908V241H1909V257H1910V282H1911V278H1912V265H1913V259H1914V276H1915V276H1916V256H1917V274H1918V250H1919V276H1920V264H1921V278H1922V277H1923V233H1924V252H1925V244H1926V268H1927V254H1928V254H1929V271H1930V265H1931V272H1932V264H1933V280H1934V261H1935V266H1936V247H1937V277H1938V282H1939V266H1940V273H1941V273H1942V279H1943V286H1944V269H1945V285H1946V279H1947V278H1948V267H1949V285H1950V274H1951V263H1952V259H1953V283H1954V262H1955V252H1956V287H1957V275H1958V234H1959V268H1960V247H1961V287H1962V273H1963V268H1964V279H1965V256H1966V274H1967V269H1968V275H1969V261H1970V284H1971V251H1972V269H1973V271H1974V259H1975V251H1976V269H1977V266H1978V281H1979V275H1980V256H1981V266H1982V233H1983V273H1984V259H1985V271H1986V267H1987V275H1988V254H1989V262H1990V280H1991V262H1992V262H1993V276H1994V268H1995V282H1996V283H1997V251H1998V261H1999V662Z" fill="#0072bd" shape-rendering="crispEdges"/>
<text transform="translate(1746.14,671.76) scale(0.6,1)" text-anchor="end" letter-spacing="-2.1" font-size="20" font-weight="bold" fill="#1a1a1a" stroke="#1a1a1a" stroke-width="0.2" vector-effect="non-scaling-stroke">0</text>
<text transform="translate(1746.14,478.29) scale(0.6,1)" text-anchor="end" letter-spacing="-2.1" font-size="20" font-weight="bold" fill="#1a1a1a" stroke="#1a1a1a" stroke-width="0.2" vector-effect="non-scaling-stroke">500</text>
<text transform="translate(1746.14,285.63) scale(0.6,1)" text-anchor="end" letter-spacing="-2.1" font-size="20" font-weight="bold" fill="#1a1a1a" stroke="#1a1a1a" stroke-width="0.2" vector-effect="non-scaling-stroke">1000</text>
<text transform="translate(1746.14,91.66) scale(0.6,1)" text-anchor="end" letter-spacing="-2.1" font-size="20" font-weight="bold" fill="#1a1a1a" stroke="#1a1a1a" stroke-width="0.2" vector-effect="non-scaling-stroke">1500</text>
<text transform="translate(1750.37,738.96) scale(0.6,1)" text-anchor="middle" letter-spacing="-2.1" font-size="20" font-weight="bold" fill="#1a1a1a" stroke="#1a1a1a" stroke-width="0.2" vector-effect="non-scaling-stroke">0</text>
<text transform="translate(1798.9,738.96) scale(0.6,1)" text-anchor="middle" letter-spacing="-2.1" font-size="20" font-weight="bold" fill="#1a1a1a" stroke="#1a1a1a" stroke-width="0.2" vector-effect="non-scaling-stroke">50</text>
<text transform="translate(1847.43,738.96) scale(0.6,1)" text-anchor="middle" letter-spacing="-2.1" font-size="20" font-weight="bold" fill="#1a1a1a" stroke="#1a1a1a" stroke-width="0.2" vector-effect="non-scaling-stroke">100</text>
<text transform="translate(1895.96,738.96) scale(0.6,1)" text-anchor="middle" letter-spacing="-2.1" font-size="20" font-weight="bold" fill="#1a1a1a" stroke="#1a1a1a" stroke-width="0.2" vector-effect="non-scaling-stroke">150</text>
<text transform="translate(1944.49,738.96) scale(0.6,1)" text-anchor="middle" letter-spacing="-2.1" font-size="20" font-weight="bold" fill="#1a1a1a" stroke="#1a1a1a" stroke-width="0.2" vector-effect="non-scaling-stroke">200</text>
<text transform="translate(1993.02,738.96) scale(0.6,1)" text-anchor="middle" letter-spacing="-2.1" font-size="20" font-weight="bold" fill="#1a1a1a" stroke="#1a1a1a" stroke-width="0.2" vector-effect="non-scaling-stroke">250</text>
<text transform="translate(1874.75,72.5) scale(0.555,1)" text-anchor="middle" font-size="21.5" font-weight="bold" fill="#000" stroke="#000" stroke-width="0.9" vector-effect="non-scaling-stroke">BLUE</text>
</g>
<text class="cap" y="913" font-size="86.5" fill="#000"><tspan x="452.2" dy="0.6" textLength="25.1" lengthAdjust="spacingAndGlyphs">(</tspan><tspan x="479.2" dy="-0.6" font-weight="bold" font-size="86" textLength="40.8" lengthAdjust="spacingAndGlyphs">a</tspan><tspan x="521.8" dy="0.6" textLength="25.1" lengthAdjust="spacingAndGlyphs">)</tspan></text>
<text class="cap" y="913" font-size="86.5" fill="#000"><tspan x="1488.8" dy="0.6" textLength="25.1" lengthAdjust="spacingAndGlyphs">(</tspan><tspan x="1514.4" dy="-0.6" font-weight="bold" font-size="86" textLength="51.6" lengthAdjust="spacingAndGlyphs">b</tspan><tspan x="1566.6" dy="0.6" textLength="25.1" lengthAdjust="spacingAndGlyphs">)</tspan></text>
</svg>
</body></html>
